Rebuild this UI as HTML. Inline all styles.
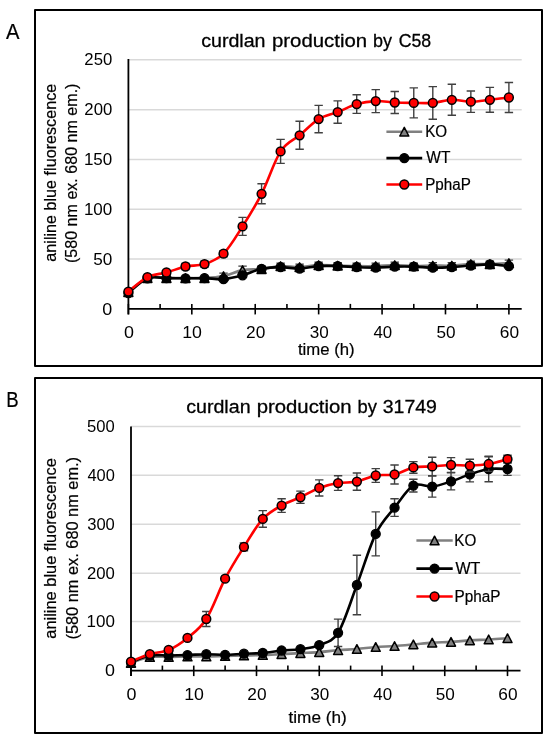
<!DOCTYPE html>
<html><head><meta charset="utf-8"><title>curdlan production</title>
<style>html,body{margin:0;padding:0;background:#fff;width:550px;height:742px;overflow:hidden;font-family:"Liberation Sans", sans-serif;}</style>
</head><body>
<svg width="550" height="742" viewBox="0 0 550 742" style="display:block;will-change:transform" font-family='"Liberation Sans", sans-serif'>
<rect x="0" y="0" width="550" height="742" fill="#fff"/>
<rect x="35" y="10" width="507" height="356" fill="#fff" stroke="#000" stroke-width="2" stroke-linejoin="round"/>
<rect x="35" y="378" width="507" height="355" fill="#fff" stroke="#000" stroke-width="2" stroke-linejoin="round"/>
<text x="5.96" y="38.50" font-size="22.40" fill="#000" stroke="#000" stroke-width="0.20" textLength="13.50" lengthAdjust="spacingAndGlyphs">A</text>
<text x="6.37" y="406.50" font-size="22.00" fill="#000" stroke="#000" stroke-width="0.20" textLength="12.41" lengthAdjust="spacingAndGlyphs">B</text>
<line x1="128.40" y1="259.00" x2="521.70" y2="259.00" stroke="#d9d9d9" stroke-width="1.5"/>
<line x1="128.40" y1="209.30" x2="521.70" y2="209.30" stroke="#d9d9d9" stroke-width="1.5"/>
<line x1="128.40" y1="159.40" x2="521.70" y2="159.40" stroke="#d9d9d9" stroke-width="1.5"/>
<line x1="128.40" y1="109.80" x2="521.70" y2="109.80" stroke="#d9d9d9" stroke-width="1.5"/>
<line x1="128.40" y1="59.80" x2="521.70" y2="59.80" stroke="#d9d9d9" stroke-width="1.5"/>
<text x="102.32" y="314.55" font-size="16.00" fill="#000" stroke="#000" stroke-width="0.00" textLength="9.96" lengthAdjust="spacingAndGlyphs">0</text>
<text x="93.22" y="264.65" font-size="16.00" fill="#000" stroke="#000" stroke-width="0.00" textLength="19.04" lengthAdjust="spacingAndGlyphs">50</text>
<text x="83.91" y="214.95" font-size="16.00" fill="#000" stroke="#000" stroke-width="0.00" textLength="28.34" lengthAdjust="spacingAndGlyphs">100</text>
<text x="83.91" y="165.05" font-size="16.00" fill="#000" stroke="#000" stroke-width="0.00" textLength="28.34" lengthAdjust="spacingAndGlyphs">150</text>
<text x="84.36" y="115.45" font-size="16.00" fill="#000" stroke="#000" stroke-width="0.00" textLength="27.88" lengthAdjust="spacingAndGlyphs">200</text>
<text x="84.36" y="65.45" font-size="16.00" fill="#000" stroke="#000" stroke-width="0.00" textLength="27.88" lengthAdjust="spacingAndGlyphs">250</text>
<line x1="128.40" y1="303.90" x2="128.40" y2="314.40" stroke="#000" stroke-width="1.6"/>
<text x="124.02" y="338.40" font-size="16.00" fill="#000" stroke="#000" stroke-width="0.00" textLength="9.96" lengthAdjust="spacingAndGlyphs">0</text>
<line x1="160.11" y1="303.90" x2="160.11" y2="308.90" stroke="#000" stroke-width="1.6"/>
<line x1="191.82" y1="303.90" x2="191.82" y2="314.40" stroke="#000" stroke-width="1.6"/>
<text x="182.22" y="338.40" font-size="16.00" fill="#000" stroke="#000" stroke-width="0.00" textLength="19.73" lengthAdjust="spacingAndGlyphs">10</text>
<line x1="223.53" y1="303.90" x2="223.53" y2="308.90" stroke="#000" stroke-width="1.6"/>
<line x1="255.23" y1="303.90" x2="255.23" y2="314.40" stroke="#000" stroke-width="1.6"/>
<text x="246.12" y="338.40" font-size="16.00" fill="#000" stroke="#000" stroke-width="0.00" textLength="19.23" lengthAdjust="spacingAndGlyphs">20</text>
<line x1="286.94" y1="303.90" x2="286.94" y2="308.90" stroke="#000" stroke-width="1.6"/>
<line x1="318.65" y1="303.90" x2="318.65" y2="314.40" stroke="#000" stroke-width="1.6"/>
<text x="309.75" y="338.40" font-size="16.00" fill="#000" stroke="#000" stroke-width="0.00" textLength="19.00" lengthAdjust="spacingAndGlyphs">30</text>
<line x1="350.36" y1="303.90" x2="350.36" y2="308.90" stroke="#000" stroke-width="1.6"/>
<line x1="382.07" y1="303.90" x2="382.07" y2="314.40" stroke="#000" stroke-width="1.6"/>
<text x="373.45" y="338.40" font-size="16.00" fill="#000" stroke="#000" stroke-width="0.00" textLength="18.71" lengthAdjust="spacingAndGlyphs">40</text>
<line x1="413.77" y1="303.90" x2="413.77" y2="308.90" stroke="#000" stroke-width="1.6"/>
<line x1="445.48" y1="303.90" x2="445.48" y2="314.40" stroke="#000" stroke-width="1.6"/>
<text x="436.55" y="338.40" font-size="16.00" fill="#000" stroke="#000" stroke-width="0.00" textLength="19.04" lengthAdjust="spacingAndGlyphs">50</text>
<line x1="477.19" y1="303.90" x2="477.19" y2="308.90" stroke="#000" stroke-width="1.6"/>
<line x1="508.90" y1="303.90" x2="508.90" y2="314.40" stroke="#000" stroke-width="1.6"/>
<text x="499.79" y="338.40" font-size="16.00" fill="#000" stroke="#000" stroke-width="0.00" textLength="19.23" lengthAdjust="spacingAndGlyphs">60</text>
<line x1="128.40" y1="308.90" x2="521.70" y2="308.90" stroke="#000" stroke-width="1.8"/>
<line x1="128.40" y1="59.00" x2="128.40" y2="314.40" stroke="#000" stroke-width="1.8"/>
<path d="M223.53,273.10 V279.10 M219.33,273.10 H227.72 M219.33,279.10 H227.72" stroke="#404040" stroke-width="1.4" fill="none"/>
<path d="M242.55,266.10 V274.10 M238.35,266.10 H246.75 M238.35,274.10 H246.75" stroke="#404040" stroke-width="1.4" fill="none"/>
<path d="M261.58,266.10 V272.10 M257.38,266.10 H265.78 M257.38,272.10 H265.78" stroke="#404040" stroke-width="1.4" fill="none"/>
<path d="M280.60,263.10 V269.10 M276.40,263.10 H284.80 M276.40,269.10 H284.80" stroke="#404040" stroke-width="1.4" fill="none"/>
<path d="M299.62,264.10 V270.10 M295.43,264.10 H303.82 M295.43,270.10 H303.82" stroke="#404040" stroke-width="1.4" fill="none"/>
<path d="M318.65,262.10 V268.10 M314.45,262.10 H322.85 M314.45,268.10 H322.85" stroke="#404040" stroke-width="1.4" fill="none"/>
<path d="M337.68,262.60 V268.60 M333.48,262.60 H341.88 M333.48,268.60 H341.88" stroke="#404040" stroke-width="1.4" fill="none"/>
<path d="M356.70,263.10 V269.10 M352.50,263.10 H360.90 M352.50,269.10 H360.90" stroke="#404040" stroke-width="1.4" fill="none"/>
<path d="M375.73,263.10 V269.10 M371.53,263.10 H379.93 M371.53,269.10 H379.93" stroke="#404040" stroke-width="1.4" fill="none"/>
<path d="M394.75,262.10 V268.10 M390.55,262.10 H398.95 M390.55,268.10 H398.95" stroke="#404040" stroke-width="1.4" fill="none"/>
<path d="M413.77,263.10 V269.10 M409.57,263.10 H417.97 M409.57,269.10 H417.97" stroke="#404040" stroke-width="1.4" fill="none"/>
<path d="M432.80,262.60 V268.60 M428.60,262.60 H437.00 M428.60,268.60 H437.00" stroke="#404040" stroke-width="1.4" fill="none"/>
<path d="M451.83,262.60 V268.60 M447.63,262.60 H456.03 M447.63,268.60 H456.03" stroke="#404040" stroke-width="1.4" fill="none"/>
<path d="M470.85,261.10 V267.10 M466.65,261.10 H475.05 M466.65,267.10 H475.05" stroke="#404040" stroke-width="1.4" fill="none"/>
<path d="M489.88,261.10 V267.10 M485.68,261.10 H494.07 M485.68,267.10 H494.07" stroke="#404040" stroke-width="1.4" fill="none"/>
<path d="M508.90,260.10 V266.10 M504.70,260.10 H513.10 M504.70,266.10 H513.10" stroke="#404040" stroke-width="1.4" fill="none"/>
<path d="M128.40,292.10 C131.57,289.77 141.08,280.43 147.43,278.10 C153.77,275.77 160.11,278.10 166.45,278.10 C172.79,278.10 179.13,278.10 185.48,278.10 C191.82,278.10 198.16,278.43 204.50,278.10 C210.84,277.77 217.18,277.43 223.53,276.10 C229.87,274.77 236.21,271.27 242.55,270.10 C248.89,268.93 255.23,269.77 261.58,269.10 C267.92,268.43 274.26,266.43 280.60,266.10 C286.94,265.77 293.28,267.27 299.62,267.10 C305.97,266.93 312.31,265.35 318.65,265.10 C324.99,264.85 331.33,265.43 337.68,265.60 C344.02,265.77 350.36,266.02 356.70,266.10 C363.04,266.18 369.38,266.27 375.73,266.10 C382.07,265.93 388.41,265.10 394.75,265.10 C401.09,265.10 407.43,266.02 413.77,266.10 C420.12,266.18 426.46,265.68 432.80,265.60 C439.14,265.52 445.48,265.85 451.83,265.60 C458.17,265.35 464.51,264.35 470.85,264.10 C477.19,263.85 483.53,264.27 489.88,264.10 C496.22,263.93 505.73,263.27 508.90,263.10" stroke="#808080" stroke-width="2.6" fill="none" stroke-linejoin="round" stroke-linecap="round"/>
<path d="M128.40,287.80 L132.90,296.40 L123.90,296.40 Z" fill="#808080" stroke="#000" stroke-width="1.5" stroke-linejoin="round"/>
<path d="M147.43,273.80 L151.93,282.40 L142.93,282.40 Z" fill="#808080" stroke="#000" stroke-width="1.5" stroke-linejoin="round"/>
<path d="M166.45,273.80 L170.95,282.40 L161.95,282.40 Z" fill="#808080" stroke="#000" stroke-width="1.5" stroke-linejoin="round"/>
<path d="M185.48,273.80 L189.98,282.40 L180.98,282.40 Z" fill="#808080" stroke="#000" stroke-width="1.5" stroke-linejoin="round"/>
<path d="M204.50,273.80 L209.00,282.40 L200.00,282.40 Z" fill="#808080" stroke="#000" stroke-width="1.5" stroke-linejoin="round"/>
<path d="M223.53,271.80 L228.03,280.40 L219.03,280.40 Z" fill="#808080" stroke="#000" stroke-width="1.5" stroke-linejoin="round"/>
<path d="M242.55,265.80 L247.05,274.40 L238.05,274.40 Z" fill="#808080" stroke="#000" stroke-width="1.5" stroke-linejoin="round"/>
<path d="M261.58,264.80 L266.08,273.40 L257.08,273.40 Z" fill="#808080" stroke="#000" stroke-width="1.5" stroke-linejoin="round"/>
<path d="M280.60,261.80 L285.10,270.40 L276.10,270.40 Z" fill="#808080" stroke="#000" stroke-width="1.5" stroke-linejoin="round"/>
<path d="M299.62,262.80 L304.12,271.40 L295.12,271.40 Z" fill="#808080" stroke="#000" stroke-width="1.5" stroke-linejoin="round"/>
<path d="M318.65,260.80 L323.15,269.40 L314.15,269.40 Z" fill="#808080" stroke="#000" stroke-width="1.5" stroke-linejoin="round"/>
<path d="M337.68,261.30 L342.18,269.90 L333.18,269.90 Z" fill="#808080" stroke="#000" stroke-width="1.5" stroke-linejoin="round"/>
<path d="M356.70,261.80 L361.20,270.40 L352.20,270.40 Z" fill="#808080" stroke="#000" stroke-width="1.5" stroke-linejoin="round"/>
<path d="M375.73,261.80 L380.23,270.40 L371.23,270.40 Z" fill="#808080" stroke="#000" stroke-width="1.5" stroke-linejoin="round"/>
<path d="M394.75,260.80 L399.25,269.40 L390.25,269.40 Z" fill="#808080" stroke="#000" stroke-width="1.5" stroke-linejoin="round"/>
<path d="M413.77,261.80 L418.27,270.40 L409.27,270.40 Z" fill="#808080" stroke="#000" stroke-width="1.5" stroke-linejoin="round"/>
<path d="M432.80,261.30 L437.30,269.90 L428.30,269.90 Z" fill="#808080" stroke="#000" stroke-width="1.5" stroke-linejoin="round"/>
<path d="M451.83,261.30 L456.33,269.90 L447.33,269.90 Z" fill="#808080" stroke="#000" stroke-width="1.5" stroke-linejoin="round"/>
<path d="M470.85,259.80 L475.35,268.40 L466.35,268.40 Z" fill="#808080" stroke="#000" stroke-width="1.5" stroke-linejoin="round"/>
<path d="M489.88,259.80 L494.38,268.40 L485.38,268.40 Z" fill="#808080" stroke="#000" stroke-width="1.5" stroke-linejoin="round"/>
<path d="M508.90,258.80 L513.40,267.40 L504.40,267.40 Z" fill="#808080" stroke="#000" stroke-width="1.5" stroke-linejoin="round"/>
<path d="M128.40,293.10 C131.57,290.65 141.08,280.90 147.43,278.40 C153.77,275.90 160.11,278.12 166.45,278.10 C172.79,278.08 179.13,278.30 185.48,278.30 C191.82,278.30 198.16,277.97 204.50,278.10 C210.84,278.23 217.18,279.57 223.53,279.10 C229.87,278.63 236.21,277.02 242.55,275.30 C248.89,273.58 255.23,270.17 261.58,268.80 C267.92,267.43 274.26,267.13 280.60,267.10 C286.94,267.07 293.28,268.77 299.62,268.60 C305.97,268.43 312.31,266.52 318.65,266.10 C324.99,265.68 331.33,265.93 337.68,266.10 C344.02,266.27 350.36,266.85 356.70,267.10 C363.04,267.35 369.38,267.68 375.73,267.60 C382.07,267.52 388.41,266.77 394.75,266.60 C401.09,266.43 407.43,266.42 413.77,266.60 C420.12,266.78 426.46,267.62 432.80,267.70 C439.14,267.78 445.48,267.47 451.83,267.10 C458.17,266.73 464.51,265.95 470.85,265.50 C477.19,265.05 483.53,264.30 489.88,264.40 C496.22,264.50 505.73,265.82 508.90,266.10" stroke="#000000" stroke-width="2.6" fill="none" stroke-linejoin="round" stroke-linecap="round"/>
<circle cx="128.40" cy="293.10" r="4.5" fill="#000" stroke="#000" stroke-width="1.3"/>
<circle cx="147.43" cy="278.40" r="4.5" fill="#000" stroke="#000" stroke-width="1.3"/>
<circle cx="166.45" cy="278.10" r="4.5" fill="#000" stroke="#000" stroke-width="1.3"/>
<circle cx="185.48" cy="278.30" r="4.5" fill="#000" stroke="#000" stroke-width="1.3"/>
<circle cx="204.50" cy="278.10" r="4.5" fill="#000" stroke="#000" stroke-width="1.3"/>
<circle cx="223.53" cy="279.10" r="4.5" fill="#000" stroke="#000" stroke-width="1.3"/>
<circle cx="242.55" cy="275.30" r="4.5" fill="#000" stroke="#000" stroke-width="1.3"/>
<circle cx="261.58" cy="268.80" r="4.5" fill="#000" stroke="#000" stroke-width="1.3"/>
<circle cx="280.60" cy="267.10" r="4.5" fill="#000" stroke="#000" stroke-width="1.3"/>
<circle cx="299.62" cy="268.60" r="4.5" fill="#000" stroke="#000" stroke-width="1.3"/>
<circle cx="318.65" cy="266.10" r="4.5" fill="#000" stroke="#000" stroke-width="1.3"/>
<circle cx="337.68" cy="266.10" r="4.5" fill="#000" stroke="#000" stroke-width="1.3"/>
<circle cx="356.70" cy="267.10" r="4.5" fill="#000" stroke="#000" stroke-width="1.3"/>
<circle cx="375.73" cy="267.60" r="4.5" fill="#000" stroke="#000" stroke-width="1.3"/>
<circle cx="394.75" cy="266.60" r="4.5" fill="#000" stroke="#000" stroke-width="1.3"/>
<circle cx="413.77" cy="266.60" r="4.5" fill="#000" stroke="#000" stroke-width="1.3"/>
<circle cx="432.80" cy="267.70" r="4.5" fill="#000" stroke="#000" stroke-width="1.3"/>
<circle cx="451.83" cy="267.10" r="4.5" fill="#000" stroke="#000" stroke-width="1.3"/>
<circle cx="470.85" cy="265.50" r="4.5" fill="#000" stroke="#000" stroke-width="1.3"/>
<circle cx="489.88" cy="264.40" r="4.5" fill="#000" stroke="#000" stroke-width="1.3"/>
<circle cx="508.90" cy="266.10" r="4.5" fill="#000" stroke="#000" stroke-width="1.3"/>
<path d="M185.48,263.50 V269.50 M181.28,263.50 H189.68 M181.28,269.50 H189.68" stroke="#404040" stroke-width="1.4" fill="none"/>
<path d="M204.50,261.10 V267.10 M200.30,261.10 H208.70 M200.30,267.10 H208.70" stroke="#404040" stroke-width="1.4" fill="none"/>
<path d="M223.53,250.70 V256.70 M219.33,250.70 H227.72 M219.33,256.70 H227.72" stroke="#404040" stroke-width="1.4" fill="none"/>
<path d="M242.55,217.40 V235.40 M238.35,217.40 H246.75 M238.35,235.40 H246.75" stroke="#404040" stroke-width="1.4" fill="none"/>
<path d="M261.58,183.80 V203.80 M257.38,183.80 H265.78 M257.38,203.80 H265.78" stroke="#404040" stroke-width="1.4" fill="none"/>
<path d="M280.60,139.40 V163.40 M276.40,139.40 H284.80 M276.40,163.40 H284.80" stroke="#404040" stroke-width="1.4" fill="none"/>
<path d="M299.62,121.30 V149.30 M295.43,121.30 H303.82 M295.43,149.30 H303.82" stroke="#404040" stroke-width="1.4" fill="none"/>
<path d="M318.65,105.40 V132.80 M314.45,105.40 H322.85 M314.45,132.80 H322.85" stroke="#404040" stroke-width="1.4" fill="none"/>
<path d="M337.68,100.90 V123.30 M333.48,100.90 H341.88 M333.48,123.30 H341.88" stroke="#404040" stroke-width="1.4" fill="none"/>
<path d="M356.70,94.80 V113.40 M352.50,94.80 H360.90 M352.50,113.40 H360.90" stroke="#404040" stroke-width="1.4" fill="none"/>
<path d="M375.73,89.60 V112.60 M371.53,89.60 H379.93 M371.53,112.60 H379.93" stroke="#404040" stroke-width="1.4" fill="none"/>
<path d="M394.75,91.50 V113.50 M390.55,91.50 H398.95 M390.55,113.50 H398.95" stroke="#404040" stroke-width="1.4" fill="none"/>
<path d="M413.77,87.90 V117.90 M409.57,87.90 H417.97 M409.57,117.90 H417.97" stroke="#404040" stroke-width="1.4" fill="none"/>
<path d="M432.80,86.60 V119.20 M428.60,86.60 H437.00 M428.60,119.20 H437.00" stroke="#404040" stroke-width="1.4" fill="none"/>
<path d="M451.83,84.30 V115.30 M447.63,84.30 H456.03 M447.63,115.30 H456.03" stroke="#404040" stroke-width="1.4" fill="none"/>
<path d="M470.85,91.00 V112.40 M466.65,91.00 H475.05 M466.65,112.40 H475.05" stroke="#404040" stroke-width="1.4" fill="none"/>
<path d="M489.88,87.40 V112.20 M485.68,87.40 H494.07 M485.68,112.20 H494.07" stroke="#404040" stroke-width="1.4" fill="none"/>
<path d="M508.90,82.50 V112.50 M504.70,82.50 H513.10 M504.70,112.50 H513.10" stroke="#404040" stroke-width="1.4" fill="none"/>
<path d="M128.40,291.60 C131.57,289.18 141.08,280.28 147.43,277.10 C153.77,273.92 160.11,274.27 166.45,272.50 C172.79,270.73 179.13,267.90 185.48,266.50 C191.82,265.10 198.16,266.23 204.50,264.10 C210.84,261.97 217.18,259.98 223.53,253.70 C229.87,247.42 236.21,236.38 242.55,226.40 C248.89,216.42 255.23,206.30 261.58,193.80 C267.92,181.30 274.26,161.15 280.60,151.40 C286.94,141.65 293.28,140.68 299.62,135.30 C305.97,129.92 312.31,122.97 318.65,119.10 C324.99,115.23 331.33,114.60 337.68,112.10 C344.02,109.60 350.36,105.93 356.70,104.10 C363.04,102.27 369.38,101.37 375.73,101.10 C382.07,100.83 388.41,102.20 394.75,102.50 C401.09,102.80 407.43,102.83 413.77,102.90 C420.12,102.97 426.46,103.42 432.80,102.90 C439.14,102.38 445.48,100.00 451.83,99.80 C458.17,99.60 464.51,101.70 470.85,101.70 C477.19,101.70 483.53,100.50 489.88,99.80 C496.22,99.10 505.73,97.88 508.90,97.50" stroke="#ff0000" stroke-width="2.6" fill="none" stroke-linejoin="round" stroke-linecap="round"/>
<circle cx="128.40" cy="291.60" r="4.4" fill="#ff0000" stroke="#000" stroke-width="1.5"/>
<circle cx="147.43" cy="277.10" r="4.4" fill="#ff0000" stroke="#000" stroke-width="1.5"/>
<circle cx="166.45" cy="272.50" r="4.4" fill="#ff0000" stroke="#000" stroke-width="1.5"/>
<circle cx="185.48" cy="266.50" r="4.4" fill="#ff0000" stroke="#000" stroke-width="1.5"/>
<circle cx="204.50" cy="264.10" r="4.4" fill="#ff0000" stroke="#000" stroke-width="1.5"/>
<circle cx="223.53" cy="253.70" r="4.4" fill="#ff0000" stroke="#000" stroke-width="1.5"/>
<circle cx="242.55" cy="226.40" r="4.4" fill="#ff0000" stroke="#000" stroke-width="1.5"/>
<circle cx="261.58" cy="193.80" r="4.4" fill="#ff0000" stroke="#000" stroke-width="1.5"/>
<circle cx="280.60" cy="151.40" r="4.4" fill="#ff0000" stroke="#000" stroke-width="1.5"/>
<circle cx="299.62" cy="135.30" r="4.4" fill="#ff0000" stroke="#000" stroke-width="1.5"/>
<circle cx="318.65" cy="119.10" r="4.4" fill="#ff0000" stroke="#000" stroke-width="1.5"/>
<circle cx="337.68" cy="112.10" r="4.4" fill="#ff0000" stroke="#000" stroke-width="1.5"/>
<circle cx="356.70" cy="104.10" r="4.4" fill="#ff0000" stroke="#000" stroke-width="1.5"/>
<circle cx="375.73" cy="101.10" r="4.4" fill="#ff0000" stroke="#000" stroke-width="1.5"/>
<circle cx="394.75" cy="102.50" r="4.4" fill="#ff0000" stroke="#000" stroke-width="1.5"/>
<circle cx="413.77" cy="102.90" r="4.4" fill="#ff0000" stroke="#000" stroke-width="1.5"/>
<circle cx="432.80" cy="102.90" r="4.4" fill="#ff0000" stroke="#000" stroke-width="1.5"/>
<circle cx="451.83" cy="99.80" r="4.4" fill="#ff0000" stroke="#000" stroke-width="1.5"/>
<circle cx="470.85" cy="101.70" r="4.4" fill="#ff0000" stroke="#000" stroke-width="1.5"/>
<circle cx="489.88" cy="99.80" r="4.4" fill="#ff0000" stroke="#000" stroke-width="1.5"/>
<circle cx="508.90" cy="97.50" r="4.4" fill="#ff0000" stroke="#000" stroke-width="1.5"/>
<line x1="386.40" y1="131.70" x2="422.20" y2="131.70" stroke="#808080" stroke-width="2.6"/>
<path d="M404.30,127.40 L408.80,136.00 L399.80,136.00 Z" fill="#808080" stroke="#000" stroke-width="1.5" stroke-linejoin="round"/>
<text x="425.15" y="137.20" font-size="15.60" fill="#000" stroke="#000" stroke-width="0.20" textLength="21.96" lengthAdjust="spacingAndGlyphs">KO</text>
<line x1="386.40" y1="158.10" x2="422.20" y2="158.10" stroke="#000000" stroke-width="2.6"/>
<circle cx="404.30" cy="158.10" r="4.5" fill="#000" stroke="#000" stroke-width="1.3"/>
<text x="426.34" y="163.20" font-size="15.60" fill="#000" stroke="#000" stroke-width="0.20" textLength="24.01" lengthAdjust="spacingAndGlyphs">WT</text>
<line x1="386.40" y1="184.50" x2="422.20" y2="184.50" stroke="#ff0000" stroke-width="2.6"/>
<circle cx="404.30" cy="184.50" r="4.4" fill="#ff0000" stroke="#000" stroke-width="1.5"/>
<text x="425.15" y="189.50" font-size="15.60" fill="#000" stroke="#000" stroke-width="0.20" textLength="45.64" lengthAdjust="spacingAndGlyphs">PphaP</text>
<text x="201.18" y="46.50" font-size="19.00" fill="#000" stroke="#000" stroke-width="0.30" textLength="64.38" lengthAdjust="spacingAndGlyphs">curdlan</text>
<text x="272.00" y="46.50" font-size="19.00" fill="#000" stroke="#000" stroke-width="0.30" textLength="95.11" lengthAdjust="spacingAndGlyphs">production</text>
<text x="373.05" y="46.50" font-size="19.00" fill="#000" stroke="#000" stroke-width="0.30" textLength="18.99" lengthAdjust="spacingAndGlyphs">by</text>
<text x="398.71" y="46.50" font-size="19.00" fill="#000" stroke="#000" stroke-width="0.30" textLength="32.47" lengthAdjust="spacingAndGlyphs">C58</text>
<text x="297.97" y="354.90" font-size="16.00" fill="#000" stroke="#000" stroke-width="0.20" textLength="56.66" lengthAdjust="spacingAndGlyphs">time (h)</text>
<text transform="translate(55.70,261.00) rotate(-90)" x="-0.68" y="0.00" font-size="15.80" fill="#000" stroke="#000" stroke-width="0.20" textLength="177.88" lengthAdjust="spacingAndGlyphs">aniline blue fluorescence</text>
<text transform="translate(77.40,262.00) rotate(-90)" x="-1.00" y="0.00" font-size="15.80" fill="#000" stroke="#000" stroke-width="0.20" textLength="179.48" lengthAdjust="spacingAndGlyphs">(580 nm ex. 680 nm em.)</text>
<line x1="131.00" y1="621.60" x2="520.50" y2="621.60" stroke="#d9d9d9" stroke-width="1.5"/>
<line x1="131.00" y1="573.30" x2="520.50" y2="573.30" stroke="#d9d9d9" stroke-width="1.5"/>
<line x1="131.00" y1="524.30" x2="520.50" y2="524.30" stroke="#d9d9d9" stroke-width="1.5"/>
<line x1="131.00" y1="475.30" x2="520.50" y2="475.30" stroke="#d9d9d9" stroke-width="1.5"/>
<line x1="131.00" y1="426.40" x2="520.50" y2="426.40" stroke="#d9d9d9" stroke-width="1.5"/>
<text x="104.92" y="676.25" font-size="16.00" fill="#000" stroke="#000" stroke-width="0.00" textLength="9.96" lengthAdjust="spacingAndGlyphs">0</text>
<text x="86.51" y="627.25" font-size="16.00" fill="#000" stroke="#000" stroke-width="0.00" textLength="28.34" lengthAdjust="spacingAndGlyphs">100</text>
<text x="86.96" y="578.95" font-size="16.00" fill="#000" stroke="#000" stroke-width="0.00" textLength="27.88" lengthAdjust="spacingAndGlyphs">200</text>
<text x="87.17" y="529.95" font-size="16.00" fill="#000" stroke="#000" stroke-width="0.00" textLength="27.67" lengthAdjust="spacingAndGlyphs">300</text>
<text x="87.44" y="480.95" font-size="16.00" fill="#000" stroke="#000" stroke-width="0.00" textLength="27.39" lengthAdjust="spacingAndGlyphs">400</text>
<text x="87.14" y="432.05" font-size="16.00" fill="#000" stroke="#000" stroke-width="0.00" textLength="27.70" lengthAdjust="spacingAndGlyphs">500</text>
<line x1="131.00" y1="665.60" x2="131.00" y2="676.10" stroke="#000" stroke-width="1.6"/>
<text x="126.62" y="700.40" font-size="16.00" fill="#000" stroke="#000" stroke-width="0.00" textLength="9.96" lengthAdjust="spacingAndGlyphs">0</text>
<line x1="162.38" y1="665.60" x2="162.38" y2="670.60" stroke="#000" stroke-width="1.6"/>
<line x1="193.75" y1="665.60" x2="193.75" y2="676.10" stroke="#000" stroke-width="1.6"/>
<text x="184.15" y="700.40" font-size="16.00" fill="#000" stroke="#000" stroke-width="0.00" textLength="19.73" lengthAdjust="spacingAndGlyphs">10</text>
<line x1="225.12" y1="665.60" x2="225.12" y2="670.60" stroke="#000" stroke-width="1.6"/>
<line x1="256.50" y1="665.60" x2="256.50" y2="676.10" stroke="#000" stroke-width="1.6"/>
<text x="247.39" y="700.40" font-size="16.00" fill="#000" stroke="#000" stroke-width="0.00" textLength="19.23" lengthAdjust="spacingAndGlyphs">20</text>
<line x1="287.88" y1="665.60" x2="287.88" y2="670.60" stroke="#000" stroke-width="1.6"/>
<line x1="319.25" y1="665.60" x2="319.25" y2="676.10" stroke="#000" stroke-width="1.6"/>
<text x="310.35" y="700.40" font-size="16.00" fill="#000" stroke="#000" stroke-width="0.00" textLength="19.00" lengthAdjust="spacingAndGlyphs">30</text>
<line x1="350.62" y1="665.60" x2="350.62" y2="670.60" stroke="#000" stroke-width="1.6"/>
<line x1="382.00" y1="665.60" x2="382.00" y2="676.10" stroke="#000" stroke-width="1.6"/>
<text x="373.38" y="700.40" font-size="16.00" fill="#000" stroke="#000" stroke-width="0.00" textLength="18.71" lengthAdjust="spacingAndGlyphs">40</text>
<line x1="413.38" y1="665.60" x2="413.38" y2="670.60" stroke="#000" stroke-width="1.6"/>
<line x1="444.75" y1="665.60" x2="444.75" y2="676.10" stroke="#000" stroke-width="1.6"/>
<text x="435.82" y="700.40" font-size="16.00" fill="#000" stroke="#000" stroke-width="0.00" textLength="19.04" lengthAdjust="spacingAndGlyphs">50</text>
<line x1="476.12" y1="665.60" x2="476.12" y2="670.60" stroke="#000" stroke-width="1.6"/>
<line x1="507.50" y1="665.60" x2="507.50" y2="676.10" stroke="#000" stroke-width="1.6"/>
<text x="498.39" y="700.40" font-size="16.00" fill="#000" stroke="#000" stroke-width="0.00" textLength="19.23" lengthAdjust="spacingAndGlyphs">60</text>
<line x1="131.00" y1="670.60" x2="520.50" y2="670.60" stroke="#000" stroke-width="1.8"/>
<line x1="131.00" y1="426.40" x2="131.00" y2="676.10" stroke="#000" stroke-width="1.8"/>
<path d="M131.00,662.88 C134.14,661.91 143.55,658.00 149.82,657.02 C156.10,656.04 162.38,657.10 168.65,657.02 C174.93,656.94 181.20,656.61 187.47,656.53 C193.75,656.45 200.03,656.61 206.30,656.53 C212.58,656.45 218.85,656.20 225.12,656.04 C231.40,655.88 237.67,655.72 243.95,655.55 C250.22,655.39 256.50,655.31 262.77,655.06 C269.05,654.82 275.33,654.41 281.60,654.09 C287.88,653.76 294.15,653.44 300.43,653.11 C306.70,652.78 312.98,652.62 319.25,652.13 C325.52,651.64 331.80,650.70 338.08,650.18 C344.35,649.66 350.62,649.54 356.90,649.01 C363.17,648.48 369.45,647.50 375.73,647.00 C382.00,646.51 388.28,646.46 394.55,646.03 C400.82,645.59 407.10,644.98 413.38,644.41 C419.65,643.84 425.93,643.03 432.20,642.61 C438.48,642.18 444.75,642.24 451.03,641.87 C457.30,641.51 463.58,640.81 469.85,640.41 C476.12,640.00 482.40,639.80 488.68,639.43 C494.95,639.06 504.36,638.41 507.50,638.21" stroke="#808080" stroke-width="2.6" fill="none" stroke-linejoin="round" stroke-linecap="round"/>
<path d="M131.00,658.58 L135.50,667.18 L126.50,667.18 Z" fill="#808080" stroke="#000" stroke-width="1.5" stroke-linejoin="round"/>
<path d="M149.82,652.72 L154.32,661.32 L145.32,661.32 Z" fill="#808080" stroke="#000" stroke-width="1.5" stroke-linejoin="round"/>
<path d="M168.65,652.72 L173.15,661.32 L164.15,661.32 Z" fill="#808080" stroke="#000" stroke-width="1.5" stroke-linejoin="round"/>
<path d="M187.47,652.23 L191.97,660.83 L182.97,660.83 Z" fill="#808080" stroke="#000" stroke-width="1.5" stroke-linejoin="round"/>
<path d="M206.30,652.23 L210.80,660.83 L201.80,660.83 Z" fill="#808080" stroke="#000" stroke-width="1.5" stroke-linejoin="round"/>
<path d="M225.12,651.74 L229.62,660.34 L220.62,660.34 Z" fill="#808080" stroke="#000" stroke-width="1.5" stroke-linejoin="round"/>
<path d="M243.95,651.25 L248.45,659.85 L239.45,659.85 Z" fill="#808080" stroke="#000" stroke-width="1.5" stroke-linejoin="round"/>
<path d="M262.77,650.76 L267.27,659.36 L258.27,659.36 Z" fill="#808080" stroke="#000" stroke-width="1.5" stroke-linejoin="round"/>
<path d="M281.60,649.79 L286.10,658.39 L277.10,658.39 Z" fill="#808080" stroke="#000" stroke-width="1.5" stroke-linejoin="round"/>
<path d="M300.43,648.81 L304.93,657.41 L295.93,657.41 Z" fill="#808080" stroke="#000" stroke-width="1.5" stroke-linejoin="round"/>
<path d="M319.25,647.83 L323.75,656.43 L314.75,656.43 Z" fill="#808080" stroke="#000" stroke-width="1.5" stroke-linejoin="round"/>
<path d="M338.08,645.88 L342.58,654.48 L333.58,654.48 Z" fill="#808080" stroke="#000" stroke-width="1.5" stroke-linejoin="round"/>
<path d="M356.90,644.71 L361.40,653.31 L352.40,653.31 Z" fill="#808080" stroke="#000" stroke-width="1.5" stroke-linejoin="round"/>
<path d="M375.73,642.70 L380.23,651.30 L371.23,651.30 Z" fill="#808080" stroke="#000" stroke-width="1.5" stroke-linejoin="round"/>
<path d="M394.55,641.73 L399.05,650.33 L390.05,650.33 Z" fill="#808080" stroke="#000" stroke-width="1.5" stroke-linejoin="round"/>
<path d="M413.38,640.11 L417.88,648.71 L408.88,648.71 Z" fill="#808080" stroke="#000" stroke-width="1.5" stroke-linejoin="round"/>
<path d="M432.20,638.31 L436.70,646.91 L427.70,646.91 Z" fill="#808080" stroke="#000" stroke-width="1.5" stroke-linejoin="round"/>
<path d="M451.03,637.57 L455.53,646.17 L446.53,646.17 Z" fill="#808080" stroke="#000" stroke-width="1.5" stroke-linejoin="round"/>
<path d="M469.85,636.11 L474.35,644.71 L465.35,644.71 Z" fill="#808080" stroke="#000" stroke-width="1.5" stroke-linejoin="round"/>
<path d="M488.68,635.13 L493.18,643.73 L484.18,643.73 Z" fill="#808080" stroke="#000" stroke-width="1.5" stroke-linejoin="round"/>
<path d="M507.50,633.91 L512.00,642.51 L503.00,642.51 Z" fill="#808080" stroke="#000" stroke-width="1.5" stroke-linejoin="round"/>
<path d="M338.08,619.10 V646.47 M333.88,619.10 H342.28 M333.88,646.47 H342.28" stroke="#404040" stroke-width="1.4" fill="none"/>
<path d="M356.90,555.19 V614.80 M352.70,555.19 H361.10 M352.70,614.80 H361.10" stroke="#404040" stroke-width="1.4" fill="none"/>
<path d="M375.73,511.91 V555.88 M371.53,511.91 H379.93 M371.53,555.88 H379.93" stroke="#404040" stroke-width="1.4" fill="none"/>
<path d="M394.55,498.81 V516.40 M390.35,498.81 H398.75 M390.35,516.40 H398.75" stroke="#404040" stroke-width="1.4" fill="none"/>
<path d="M413.38,479.27 V491.97 M409.18,479.27 H417.57 M409.18,491.97 H417.57" stroke="#404040" stroke-width="1.4" fill="none"/>
<path d="M432.20,476.09 V497.10 M428.00,476.09 H436.40 M428.00,497.10 H436.40" stroke="#404040" stroke-width="1.4" fill="none"/>
<path d="M451.03,472.91 V489.92 M446.83,472.91 H455.23 M446.83,489.92 H455.23" stroke="#404040" stroke-width="1.4" fill="none"/>
<path d="M469.85,466.86 V481.90 M465.65,466.86 H474.05 M465.65,481.90 H474.05" stroke="#404040" stroke-width="1.4" fill="none"/>
<path d="M488.68,456.30 V481.71 M484.48,456.30 H492.88 M484.48,481.71 H492.88" stroke="#404040" stroke-width="1.4" fill="none"/>
<path d="M507.50,462.65 V475.36 M503.30,462.65 H511.70 M503.30,475.36 H511.70" stroke="#404040" stroke-width="1.4" fill="none"/>
<path d="M131.00,662.39 C134.14,661.25 143.55,656.69 149.82,655.55 C156.10,654.41 162.38,655.63 168.65,655.55 C174.93,655.47 181.20,655.29 187.47,655.06 C193.75,654.84 200.03,654.23 206.30,654.19 C212.58,654.14 218.85,654.90 225.12,654.82 C231.40,654.74 237.67,654.00 243.95,653.70 C250.22,653.40 256.50,653.54 262.77,653.01 C269.05,652.48 275.33,651.16 281.60,650.52 C287.88,649.89 294.15,650.11 300.43,649.20 C306.70,648.30 312.98,647.83 319.25,645.10 C325.52,642.36 331.80,642.80 338.08,632.78 C344.35,622.77 350.62,601.48 356.90,585.00 C363.17,568.52 369.45,546.79 375.73,533.89 C382.00,520.99 388.28,515.65 394.55,507.61 C400.82,499.56 407.10,489.12 413.38,485.62 C419.65,482.12 425.93,487.30 432.20,486.60 C438.48,485.90 444.75,483.45 451.03,481.42 C457.30,479.38 463.58,476.45 469.85,474.38 C476.12,472.31 482.40,469.90 488.68,469.01 C494.95,468.11 504.36,469.01 507.50,469.01" stroke="#000000" stroke-width="2.6" fill="none" stroke-linejoin="round" stroke-linecap="round"/>
<circle cx="131.00" cy="662.39" r="4.5" fill="#000" stroke="#000" stroke-width="1.3"/>
<circle cx="149.82" cy="655.55" r="4.5" fill="#000" stroke="#000" stroke-width="1.3"/>
<circle cx="168.65" cy="655.55" r="4.5" fill="#000" stroke="#000" stroke-width="1.3"/>
<circle cx="187.47" cy="655.06" r="4.5" fill="#000" stroke="#000" stroke-width="1.3"/>
<circle cx="206.30" cy="654.19" r="4.5" fill="#000" stroke="#000" stroke-width="1.3"/>
<circle cx="225.12" cy="654.82" r="4.5" fill="#000" stroke="#000" stroke-width="1.3"/>
<circle cx="243.95" cy="653.70" r="4.5" fill="#000" stroke="#000" stroke-width="1.3"/>
<circle cx="262.77" cy="653.01" r="4.5" fill="#000" stroke="#000" stroke-width="1.3"/>
<circle cx="281.60" cy="650.52" r="4.5" fill="#000" stroke="#000" stroke-width="1.3"/>
<circle cx="300.43" cy="649.20" r="4.5" fill="#000" stroke="#000" stroke-width="1.3"/>
<circle cx="319.25" cy="645.10" r="4.5" fill="#000" stroke="#000" stroke-width="1.3"/>
<circle cx="338.08" cy="632.78" r="4.5" fill="#000" stroke="#000" stroke-width="1.3"/>
<circle cx="356.90" cy="585.00" r="4.5" fill="#000" stroke="#000" stroke-width="1.3"/>
<circle cx="375.73" cy="533.89" r="4.5" fill="#000" stroke="#000" stroke-width="1.3"/>
<circle cx="394.55" cy="507.61" r="4.5" fill="#000" stroke="#000" stroke-width="1.3"/>
<circle cx="413.38" cy="485.62" r="4.5" fill="#000" stroke="#000" stroke-width="1.3"/>
<circle cx="432.20" cy="486.60" r="4.5" fill="#000" stroke="#000" stroke-width="1.3"/>
<circle cx="451.03" cy="481.42" r="4.5" fill="#000" stroke="#000" stroke-width="1.3"/>
<circle cx="469.85" cy="474.38" r="4.5" fill="#000" stroke="#000" stroke-width="1.3"/>
<circle cx="488.68" cy="469.01" r="4.5" fill="#000" stroke="#000" stroke-width="1.3"/>
<circle cx="507.50" cy="469.01" r="4.5" fill="#000" stroke="#000" stroke-width="1.3"/>
<path d="M206.30,611.48 V626.53 M202.10,611.48 H210.50 M202.10,626.53 H210.50" stroke="#404040" stroke-width="1.4" fill="none"/>
<path d="M243.95,542.98 V550.80 M239.75,542.98 H248.15 M239.75,550.80 H248.15" stroke="#404040" stroke-width="1.4" fill="none"/>
<path d="M262.77,510.59 V527.20 M258.57,510.59 H266.97 M258.57,527.20 H266.97" stroke="#404040" stroke-width="1.4" fill="none"/>
<path d="M281.60,498.71 V512.39 M277.40,498.71 H285.80 M277.40,512.39 H285.80" stroke="#404040" stroke-width="1.4" fill="none"/>
<path d="M300.43,491.14 V503.35 M296.23,491.14 H304.62 M296.23,503.35 H304.62" stroke="#404040" stroke-width="1.4" fill="none"/>
<path d="M319.25,479.90 V496.03 M315.05,479.90 H323.45 M315.05,496.03 H323.45" stroke="#404040" stroke-width="1.4" fill="none"/>
<path d="M338.08,475.75 V490.41 M333.88,475.75 H342.28 M333.88,490.41 H342.28" stroke="#404040" stroke-width="1.4" fill="none"/>
<path d="M356.90,472.96 V490.26 M352.70,472.96 H361.10 M352.70,490.26 H361.10" stroke="#404040" stroke-width="1.4" fill="none"/>
<path d="M375.73,468.66 V482.34 M371.53,468.66 H379.93 M371.53,482.34 H379.93" stroke="#404040" stroke-width="1.4" fill="none"/>
<path d="M394.55,465.00 V483.96 M390.35,465.00 H398.75 M390.35,483.96 H398.75" stroke="#404040" stroke-width="1.4" fill="none"/>
<path d="M413.38,461.58 V473.31 M409.18,461.58 H417.57 M409.18,473.31 H417.57" stroke="#404040" stroke-width="1.4" fill="none"/>
<path d="M432.20,457.28 V475.65 M428.00,457.28 H436.40 M428.00,475.65 H436.40" stroke="#404040" stroke-width="1.4" fill="none"/>
<path d="M451.03,457.67 V472.33 M446.83,457.67 H455.23 M446.83,472.33 H455.23" stroke="#404040" stroke-width="1.4" fill="none"/>
<path d="M469.85,459.23 V471.94 M465.65,459.23 H474.05 M465.65,471.94 H474.05" stroke="#404040" stroke-width="1.4" fill="none"/>
<path d="M488.68,456.69 V471.35 M484.48,456.69 H492.88 M484.48,471.35 H492.88" stroke="#404040" stroke-width="1.4" fill="none"/>
<path d="M507.50,455.23 V463.05 M503.30,455.23 H511.70 M503.30,463.05 H511.70" stroke="#404040" stroke-width="1.4" fill="none"/>
<path d="M131.00,661.61 C134.14,660.36 143.55,656.03 149.82,654.09 C156.10,652.15 162.38,652.67 168.65,649.98 C174.93,647.30 181.20,643.13 187.47,637.96 C193.75,632.80 200.03,628.88 206.30,619.01 C212.58,609.13 218.85,590.72 225.12,578.70 C231.40,566.68 237.67,556.86 243.95,546.89 C250.22,536.92 256.50,525.78 262.77,518.89 C269.05,512.00 275.33,509.16 281.60,505.55 C287.88,501.95 294.15,500.18 300.43,497.25 C306.70,494.32 312.98,490.33 319.25,487.96 C325.52,485.60 331.80,484.14 338.08,483.08 C344.35,482.02 350.62,482.87 356.90,481.61 C363.17,480.35 369.45,476.69 375.73,475.50 C382.00,474.32 388.28,475.82 394.55,474.48 C400.82,473.13 407.10,468.78 413.38,467.44 C419.65,466.11 425.93,466.87 432.20,466.47 C438.48,466.06 444.75,465.15 451.03,465.00 C457.30,464.85 463.58,465.75 469.85,465.59 C476.12,465.42 482.40,465.10 488.68,464.02 C494.95,462.95 504.36,459.95 507.50,459.14" stroke="#ff0000" stroke-width="2.6" fill="none" stroke-linejoin="round" stroke-linecap="round"/>
<circle cx="131.00" cy="661.61" r="4.4" fill="#ff0000" stroke="#000" stroke-width="1.5"/>
<circle cx="149.82" cy="654.09" r="4.4" fill="#ff0000" stroke="#000" stroke-width="1.5"/>
<circle cx="168.65" cy="649.98" r="4.4" fill="#ff0000" stroke="#000" stroke-width="1.5"/>
<circle cx="187.47" cy="637.96" r="4.4" fill="#ff0000" stroke="#000" stroke-width="1.5"/>
<circle cx="206.30" cy="619.01" r="4.4" fill="#ff0000" stroke="#000" stroke-width="1.5"/>
<circle cx="225.12" cy="578.70" r="4.4" fill="#ff0000" stroke="#000" stroke-width="1.5"/>
<circle cx="243.95" cy="546.89" r="4.4" fill="#ff0000" stroke="#000" stroke-width="1.5"/>
<circle cx="262.77" cy="518.89" r="4.4" fill="#ff0000" stroke="#000" stroke-width="1.5"/>
<circle cx="281.60" cy="505.55" r="4.4" fill="#ff0000" stroke="#000" stroke-width="1.5"/>
<circle cx="300.43" cy="497.25" r="4.4" fill="#ff0000" stroke="#000" stroke-width="1.5"/>
<circle cx="319.25" cy="487.96" r="4.4" fill="#ff0000" stroke="#000" stroke-width="1.5"/>
<circle cx="338.08" cy="483.08" r="4.4" fill="#ff0000" stroke="#000" stroke-width="1.5"/>
<circle cx="356.90" cy="481.61" r="4.4" fill="#ff0000" stroke="#000" stroke-width="1.5"/>
<circle cx="375.73" cy="475.50" r="4.4" fill="#ff0000" stroke="#000" stroke-width="1.5"/>
<circle cx="394.55" cy="474.48" r="4.4" fill="#ff0000" stroke="#000" stroke-width="1.5"/>
<circle cx="413.38" cy="467.44" r="4.4" fill="#ff0000" stroke="#000" stroke-width="1.5"/>
<circle cx="432.20" cy="466.47" r="4.4" fill="#ff0000" stroke="#000" stroke-width="1.5"/>
<circle cx="451.03" cy="465.00" r="4.4" fill="#ff0000" stroke="#000" stroke-width="1.5"/>
<circle cx="469.85" cy="465.59" r="4.4" fill="#ff0000" stroke="#000" stroke-width="1.5"/>
<circle cx="488.68" cy="464.02" r="4.4" fill="#ff0000" stroke="#000" stroke-width="1.5"/>
<circle cx="507.50" cy="459.14" r="4.4" fill="#ff0000" stroke="#000" stroke-width="1.5"/>
<line x1="416.40" y1="540.50" x2="452.70" y2="540.50" stroke="#808080" stroke-width="2.6"/>
<path d="M434.55,536.20 L439.05,544.80 L430.05,544.80 Z" fill="#808080" stroke="#000" stroke-width="1.5" stroke-linejoin="round"/>
<text x="454.25" y="545.90" font-size="15.60" fill="#000" stroke="#000" stroke-width="0.20" textLength="21.96" lengthAdjust="spacingAndGlyphs">KO</text>
<line x1="416.40" y1="568.60" x2="452.70" y2="568.60" stroke="#000000" stroke-width="2.6"/>
<circle cx="434.55" cy="568.60" r="4.5" fill="#000" stroke="#000" stroke-width="1.3"/>
<text x="455.44" y="573.70" font-size="15.60" fill="#000" stroke="#000" stroke-width="0.20" textLength="24.93" lengthAdjust="spacingAndGlyphs">WT</text>
<line x1="416.40" y1="596.50" x2="452.70" y2="596.50" stroke="#ff0000" stroke-width="2.6"/>
<circle cx="434.55" cy="596.50" r="4.4" fill="#ff0000" stroke="#000" stroke-width="1.5"/>
<text x="454.44" y="601.80" font-size="15.60" fill="#000" stroke="#000" stroke-width="0.20" textLength="45.96" lengthAdjust="spacingAndGlyphs">PphaP</text>
<text x="186.18" y="412.80" font-size="19.10" fill="#000" stroke="#000" stroke-width="0.30" textLength="64.38" lengthAdjust="spacingAndGlyphs">curdlan</text>
<text x="256.70" y="412.80" font-size="19.10" fill="#000" stroke="#000" stroke-width="0.30" textLength="94.90" lengthAdjust="spacingAndGlyphs">production</text>
<text x="357.62" y="412.80" font-size="19.10" fill="#000" stroke="#000" stroke-width="0.30" textLength="19.42" lengthAdjust="spacingAndGlyphs">by</text>
<text x="382.76" y="412.80" font-size="19.10" fill="#000" stroke="#000" stroke-width="0.30" textLength="54.19" lengthAdjust="spacingAndGlyphs">31749</text>
<text x="288.56" y="722.60" font-size="16.00" fill="#000" stroke="#000" stroke-width="0.20" textLength="58.09" lengthAdjust="spacingAndGlyphs">time (h)</text>
<text transform="translate(55.50,638.00) rotate(-90)" x="-0.69" y="0.00" font-size="15.80" fill="#000" stroke="#000" stroke-width="0.20" textLength="180.50" lengthAdjust="spacingAndGlyphs">aniline blue fluorescence</text>
<text transform="translate(77.50,638.50) rotate(-90)" x="-1.01" y="0.00" font-size="15.80" fill="#000" stroke="#000" stroke-width="0.20" textLength="182.52" lengthAdjust="spacingAndGlyphs">(580 nm ex. 680 nm em.)</text>
</svg>
</body></html>
